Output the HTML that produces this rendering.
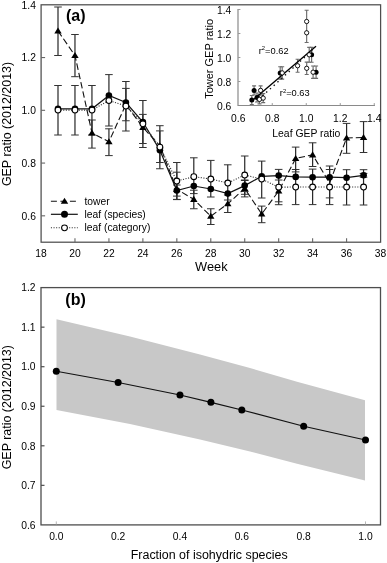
<!DOCTYPE html>
<html><head><meta charset="utf-8"><title>GEP ratio figure</title>
<style>
html,body{margin:0;padding:0;background:#fff;}
svg{display:block;}
text{font-family:'Liberation Sans', sans-serif;fill:#000;}
.tk{font-size:10.3px;}
.al{font-size:12.45px;}
.il{font-size:10.4px;}
.pl{font-size:16px;font-weight:bold;}
.rr{font-size:9.3px;}
</style></head><body>
<svg width="387" height="563" viewBox="0 0 387 563">
<rect width="387" height="563" fill="#fff"/>
<rect x="41.1" y="4.8" width="339.5" height="237.39999999999998" fill="none" stroke="#4e4e4e" stroke-width="1.25"/>
<text x="35.9" y="8.60" text-anchor="end" class="tk">1.4</text>
<line x1="41.1" y1="57.56" x2="45.1" y2="57.56" stroke="#666" stroke-width="1.1"/>
<text x="35.9" y="61.36" text-anchor="end" class="tk">1.2</text>
<line x1="41.1" y1="110.31" x2="45.1" y2="110.31" stroke="#666" stroke-width="1.1"/>
<text x="35.9" y="114.11" text-anchor="end" class="tk">1.0</text>
<line x1="41.1" y1="163.07" x2="45.1" y2="163.07" stroke="#666" stroke-width="1.1"/>
<text x="35.9" y="166.87" text-anchor="end" class="tk">0.8</text>
<line x1="41.1" y1="215.82" x2="45.1" y2="215.82" stroke="#666" stroke-width="1.1"/>
<text x="35.9" y="219.62" text-anchor="end" class="tk">0.6</text>
<text x="41.02" y="256.8" text-anchor="middle" class="tk">18</text>
<line x1="74.97" y1="242.2" x2="74.97" y2="238.2" stroke="#666" stroke-width="1.1"/>
<text x="74.97" y="256.8" text-anchor="middle" class="tk">20</text>
<line x1="108.93" y1="242.2" x2="108.93" y2="238.2" stroke="#666" stroke-width="1.1"/>
<text x="108.93" y="256.8" text-anchor="middle" class="tk">22</text>
<line x1="142.88" y1="242.2" x2="142.88" y2="238.2" stroke="#666" stroke-width="1.1"/>
<text x="142.88" y="256.8" text-anchor="middle" class="tk">24</text>
<line x1="176.83" y1="242.2" x2="176.83" y2="238.2" stroke="#666" stroke-width="1.1"/>
<text x="176.83" y="256.8" text-anchor="middle" class="tk">26</text>
<line x1="210.78" y1="242.2" x2="210.78" y2="238.2" stroke="#666" stroke-width="1.1"/>
<text x="210.78" y="256.8" text-anchor="middle" class="tk">28</text>
<line x1="244.73" y1="242.2" x2="244.73" y2="238.2" stroke="#666" stroke-width="1.1"/>
<text x="244.73" y="256.8" text-anchor="middle" class="tk">30</text>
<line x1="278.68" y1="242.2" x2="278.68" y2="238.2" stroke="#666" stroke-width="1.1"/>
<text x="278.68" y="256.8" text-anchor="middle" class="tk">32</text>
<line x1="312.62" y1="242.2" x2="312.62" y2="238.2" stroke="#666" stroke-width="1.1"/>
<text x="312.62" y="256.8" text-anchor="middle" class="tk">34</text>
<line x1="346.58" y1="242.2" x2="346.58" y2="238.2" stroke="#666" stroke-width="1.1"/>
<text x="346.58" y="256.8" text-anchor="middle" class="tk">36</text>
<text x="380.53" y="256.8" text-anchor="middle" class="tk">38</text>
<text x="211.3" y="271.3" text-anchor="middle" class="al" style="font-size:12.8px">Week</text>
<text transform="translate(10.8,124) rotate(-90)" text-anchor="middle" class="al">GEP ratio (2012/2013)</text>
<text x="66" y="20.8" class="pl">(a)</text>
<path d="M58.00 85.50V135.00" stroke="#262626" stroke-width="1.2" fill="none"/>
<path d="M54.20 85.50H61.80M54.20 135.00H61.80" stroke="#333" stroke-width="1" fill="none"/>
<path d="M58.00 7.00V55.50" stroke="#262626" stroke-width="1.2" fill="none"/>
<path d="M54.20 7.00H61.80M54.20 55.50H61.80" stroke="#333" stroke-width="1" fill="none"/>
<path d="M74.97 85.50V135.00" stroke="#262626" stroke-width="1.2" fill="none"/>
<path d="M71.17 85.50H78.77M71.17 135.00H78.77" stroke="#333" stroke-width="1" fill="none"/>
<path d="M74.97 34.50V76.70" stroke="#262626" stroke-width="1.2" fill="none"/>
<path d="M71.17 34.50H78.77M71.17 76.70H78.77" stroke="#333" stroke-width="1" fill="none"/>
<path d="M91.95 85.50V135.00" stroke="#262626" stroke-width="1.2" fill="none"/>
<path d="M88.15 85.50H95.75M88.15 135.00H95.75" stroke="#333" stroke-width="1" fill="none"/>
<path d="M91.95 120.00V148.10" stroke="#262626" stroke-width="1.2" fill="none"/>
<path d="M88.15 120.00H95.75M88.15 148.10H95.75" stroke="#333" stroke-width="1" fill="none"/>
<path d="M108.93 74.60V126.00" stroke="#262626" stroke-width="1.2" fill="none"/>
<path d="M105.13 74.60H112.73M105.13 126.00H112.73" stroke="#333" stroke-width="1" fill="none"/>
<path d="M108.93 128.80V155.60" stroke="#262626" stroke-width="1.2" fill="none"/>
<path d="M105.13 128.80H112.73M105.13 155.60H112.73" stroke="#333" stroke-width="1" fill="none"/>
<path d="M125.90 81.50V131.00" stroke="#262626" stroke-width="1.2" fill="none"/>
<path d="M122.10 81.50H129.70M122.10 131.00H129.70" stroke="#333" stroke-width="1" fill="none"/>
<path d="M125.90 88.40V120.75" stroke="#262626" stroke-width="1.2" fill="none"/>
<path d="M122.10 88.40H129.70M122.10 120.75H129.70" stroke="#333" stroke-width="1" fill="none"/>
<path d="M142.88 100.50V147.50" stroke="#262626" stroke-width="1.2" fill="none"/>
<path d="M139.07 100.50H146.68M139.07 147.50H146.68" stroke="#333" stroke-width="1" fill="none"/>
<path d="M142.88 114.40V143.50" stroke="#262626" stroke-width="1.2" fill="none"/>
<path d="M139.07 114.40H146.68M139.07 143.50H146.68" stroke="#333" stroke-width="1" fill="none"/>
<path d="M159.85 125.70V168.75" stroke="#262626" stroke-width="1.2" fill="none"/>
<path d="M156.05 125.70H163.65M156.05 168.75H163.65" stroke="#333" stroke-width="1" fill="none"/>
<path d="M159.85 130.90V162.50" stroke="#262626" stroke-width="1.2" fill="none"/>
<path d="M156.05 130.90H163.65M156.05 162.50H163.65" stroke="#333" stroke-width="1" fill="none"/>
<path d="M176.83 162.50V199.40" stroke="#262626" stroke-width="1.2" fill="none"/>
<path d="M173.03 162.50H180.63M173.03 199.40H180.63" stroke="#333" stroke-width="1" fill="none"/>
<path d="M176.83 172.20V199.60" stroke="#262626" stroke-width="1.2" fill="none"/>
<path d="M173.03 172.20H180.63M173.03 199.60H180.63" stroke="#333" stroke-width="1" fill="none"/>
<path d="M176.83 185.00V196.10" stroke="#262626" stroke-width="1.2" fill="none"/>
<path d="M173.03 185.00H180.63M173.03 196.10H180.63" stroke="#333" stroke-width="1" fill="none"/>
<path d="M193.80 157.80V193.60" stroke="#262626" stroke-width="1.2" fill="none"/>
<path d="M190.00 157.80H197.60M190.00 193.60H197.60" stroke="#333" stroke-width="1" fill="none"/>
<path d="M193.80 190.20V208.75" stroke="#262626" stroke-width="1.2" fill="none"/>
<path d="M190.00 190.20H197.60M190.00 208.75H197.60" stroke="#333" stroke-width="1" fill="none"/>
<path d="M210.78 160.40V197.00" stroke="#262626" stroke-width="1.2" fill="none"/>
<path d="M206.97 160.40H214.58M206.97 197.00H214.58" stroke="#333" stroke-width="1" fill="none"/>
<path d="M210.78 208.75V224.50" stroke="#262626" stroke-width="1.2" fill="none"/>
<path d="M206.97 208.75H214.58M206.97 224.50H214.58" stroke="#333" stroke-width="1" fill="none"/>
<path d="M227.75 164.80V200.00" stroke="#262626" stroke-width="1.2" fill="none"/>
<path d="M223.95 164.80H231.55M223.95 200.00H231.55" stroke="#333" stroke-width="1" fill="none"/>
<path d="M227.75 195.00V212.50" stroke="#262626" stroke-width="1.2" fill="none"/>
<path d="M223.95 195.00H231.55M223.95 212.50H231.55" stroke="#333" stroke-width="1" fill="none"/>
<path d="M244.73 156.00V194.30" stroke="#262626" stroke-width="1.2" fill="none"/>
<path d="M240.93 156.00H248.53M240.93 194.30H248.53" stroke="#333" stroke-width="1" fill="none"/>
<path d="M244.73 180.50V196.90" stroke="#262626" stroke-width="1.2" fill="none"/>
<path d="M240.93 180.50H248.53M240.93 196.90H248.53" stroke="#333" stroke-width="1" fill="none"/>
<path d="M244.73 180.00V191.50" stroke="#262626" stroke-width="1.2" fill="none"/>
<path d="M240.93 180.00H248.53M240.93 191.50H248.53" stroke="#333" stroke-width="1" fill="none"/>
<path d="M261.70 161.10V198.00" stroke="#262626" stroke-width="1.2" fill="none"/>
<path d="M257.90 161.10H265.50M257.90 198.00H265.50" stroke="#333" stroke-width="1" fill="none"/>
<path d="M261.70 206.10V222.70" stroke="#262626" stroke-width="1.2" fill="none"/>
<path d="M257.90 206.10H265.50M257.90 222.70H265.50" stroke="#333" stroke-width="1" fill="none"/>
<path d="M278.68 169.40V204.70" stroke="#262626" stroke-width="1.2" fill="none"/>
<path d="M274.88 169.40H282.48M274.88 204.70H282.48" stroke="#333" stroke-width="1" fill="none"/>
<path d="M278.68 180.00V201.80" stroke="#262626" stroke-width="1.2" fill="none"/>
<path d="M274.88 180.00H282.48M274.88 201.80H282.48" stroke="#333" stroke-width="1" fill="none"/>
<path d="M295.65 169.50V204.60" stroke="#262626" stroke-width="1.2" fill="none"/>
<path d="M291.85 169.50H299.45M291.85 204.60H299.45" stroke="#333" stroke-width="1" fill="none"/>
<path d="M295.65 147.10V171.90" stroke="#262626" stroke-width="1.2" fill="none"/>
<path d="M291.85 147.10H299.45M291.85 171.90H299.45" stroke="#333" stroke-width="1" fill="none"/>
<path d="M312.62 169.10V204.60" stroke="#262626" stroke-width="1.2" fill="none"/>
<path d="M308.82 169.10H316.43M308.82 204.60H316.43" stroke="#333" stroke-width="1" fill="none"/>
<path d="M312.62 142.80V166.50" stroke="#262626" stroke-width="1.2" fill="none"/>
<path d="M308.82 142.80H316.43M308.82 166.50H316.43" stroke="#333" stroke-width="1" fill="none"/>
<path d="M329.60 169.50V204.60" stroke="#262626" stroke-width="1.2" fill="none"/>
<path d="M325.80 169.50H333.40M325.80 204.60H333.40" stroke="#333" stroke-width="1" fill="none"/>
<path d="M329.60 166.00V197.90" stroke="#262626" stroke-width="1.2" fill="none"/>
<path d="M325.80 166.00H333.40M325.80 197.90H333.40" stroke="#333" stroke-width="1" fill="none"/>
<path d="M346.58 169.70V205.00" stroke="#262626" stroke-width="1.2" fill="none"/>
<path d="M342.78 169.70H350.38M342.78 205.00H350.38" stroke="#333" stroke-width="1" fill="none"/>
<path d="M346.58 123.40V153.30" stroke="#262626" stroke-width="1.2" fill="none"/>
<path d="M342.78 123.40H350.38M342.78 153.30H350.38" stroke="#333" stroke-width="1" fill="none"/>
<path d="M363.55 169.70V205.00" stroke="#262626" stroke-width="1.2" fill="none"/>
<path d="M359.75 169.70H367.35M359.75 205.00H367.35" stroke="#333" stroke-width="1" fill="none"/>
<path d="M363.55 121.60V152.50" stroke="#262626" stroke-width="1.2" fill="none"/>
<path d="M359.75 121.60H367.35M359.75 152.50H367.35" stroke="#333" stroke-width="1" fill="none"/>
<path d="M363.55 173.40V177.20" stroke="#262626" stroke-width="1.2" fill="none"/>
<path d="M359.75 173.40H367.35M359.75 177.20H367.35" stroke="#333" stroke-width="1" fill="none"/>
<polyline points="58.0,31.00 75.0,55.50 92.0,133.00 108.9,141.75 125.9,104.50 142.9,127.40 159.9,145.70 176.8,189.30 193.8,199.30 210.8,216.25 227.8,203.75 244.7,188.50 261.7,214.00 278.7,191.00 295.7,158.40 312.6,154.80 329.6,183.00 346.6,138.00 363.6,137.40" fill="none" stroke="#111" stroke-width="1.1" stroke-dasharray="6.5 3"/>
<polyline points="58.0,108.80 75.0,108.80 92.0,108.80 108.9,95.50 125.9,102.50 142.9,122.00 159.9,150.30 176.8,190.50 193.8,186.00 210.8,189.00 227.8,193.60 244.7,185.60 261.7,176.30 278.7,175.60 295.7,176.90 312.6,177.20 329.6,177.20 346.6,177.70 363.6,175.30" fill="none" stroke="#111" stroke-width="1.2"/>
<polyline points="58.0,110.10 75.0,110.10 92.0,110.10 108.9,100.50 125.9,106.00 142.9,123.80 159.9,147.10 176.8,181.00 193.8,176.70 210.8,179.00 227.8,183.00 244.7,175.00 261.7,179.10 278.7,187.20 295.7,187.00 312.6,187.00 329.6,187.00 346.6,187.00 363.6,187.00" fill="none" stroke="#333" stroke-width="1.1" stroke-dasharray="1.1 1.5"/>
<path d="M58.00 27.50L61.70 33.60H54.30Z" fill="#000"/>
<path d="M74.97 52.00L78.67 58.10H71.27Z" fill="#000"/>
<path d="M91.95 129.50L95.65 135.60H88.25Z" fill="#000"/>
<path d="M108.93 138.25L112.63 144.35H105.23Z" fill="#000"/>
<path d="M125.90 101.00L129.60 107.10H122.20Z" fill="#000"/>
<path d="M142.88 123.90L146.57 130.00H139.18Z" fill="#000"/>
<path d="M159.85 142.20L163.55 148.30H156.15Z" fill="#000"/>
<path d="M176.83 185.80L180.53 191.90H173.13Z" fill="#000"/>
<path d="M193.80 195.80L197.50 201.90H190.10Z" fill="#000"/>
<path d="M210.78 212.75L214.47 218.85H207.08Z" fill="#000"/>
<path d="M227.75 200.25L231.45 206.35H224.05Z" fill="#000"/>
<path d="M244.73 185.00L248.43 191.10H241.03Z" fill="#000"/>
<path d="M261.70 210.50L265.40 216.60H258.00Z" fill="#000"/>
<path d="M278.68 187.50L282.38 193.60H274.98Z" fill="#000"/>
<path d="M295.65 154.90L299.35 161.00H291.95Z" fill="#000"/>
<path d="M312.62 151.30L316.32 157.40H308.93Z" fill="#000"/>
<path d="M346.58 134.50L350.28 140.60H342.88Z" fill="#000"/>
<path d="M363.55 133.90L367.25 140.00H359.85Z" fill="#000"/>
<circle cx="58.0" cy="108.80" r="3.3" fill="#000"/>
<circle cx="75.0" cy="108.80" r="3.3" fill="#000"/>
<circle cx="92.0" cy="108.80" r="3.3" fill="#000"/>
<circle cx="108.9" cy="95.50" r="3.3" fill="#000"/>
<circle cx="125.9" cy="102.50" r="3.3" fill="#000"/>
<circle cx="142.9" cy="122.00" r="3.3" fill="#000"/>
<circle cx="159.9" cy="150.30" r="3.3" fill="#000"/>
<circle cx="176.8" cy="190.50" r="3.3" fill="#000"/>
<circle cx="193.8" cy="186.00" r="3.3" fill="#000"/>
<circle cx="210.8" cy="189.00" r="3.3" fill="#000"/>
<circle cx="227.8" cy="193.60" r="3.3" fill="#000"/>
<circle cx="244.7" cy="185.60" r="3.3" fill="#000"/>
<circle cx="261.7" cy="176.30" r="3.3" fill="#000"/>
<circle cx="278.7" cy="175.60" r="3.3" fill="#000"/>
<circle cx="295.7" cy="176.90" r="3.3" fill="#000"/>
<circle cx="312.6" cy="177.20" r="3.3" fill="#000"/>
<circle cx="329.6" cy="177.20" r="3.3" fill="#000"/>
<circle cx="346.6" cy="177.70" r="3.3" fill="#000"/>
<circle cx="363.6" cy="175.30" r="3.3" fill="#000"/>
<circle cx="58.0" cy="110.10" r="2.9" fill="#fff" stroke="#000" stroke-width="1.05"/>
<circle cx="75.0" cy="110.10" r="2.9" fill="#fff" stroke="#000" stroke-width="1.05"/>
<circle cx="92.0" cy="110.10" r="2.9" fill="#fff" stroke="#000" stroke-width="1.05"/>
<circle cx="108.9" cy="100.50" r="2.9" fill="#fff" stroke="#000" stroke-width="1.05"/>
<circle cx="125.9" cy="106.00" r="2.9" fill="#fff" stroke="#000" stroke-width="1.05"/>
<circle cx="142.9" cy="123.80" r="2.9" fill="#fff" stroke="#000" stroke-width="1.05"/>
<circle cx="159.9" cy="147.10" r="2.9" fill="#fff" stroke="#000" stroke-width="1.05"/>
<circle cx="176.8" cy="181.00" r="2.9" fill="#fff" stroke="#000" stroke-width="1.05"/>
<circle cx="193.8" cy="176.70" r="2.9" fill="#fff" stroke="#000" stroke-width="1.05"/>
<circle cx="210.8" cy="179.00" r="2.9" fill="#fff" stroke="#000" stroke-width="1.05"/>
<circle cx="227.8" cy="183.00" r="2.9" fill="#fff" stroke="#000" stroke-width="1.05"/>
<circle cx="244.7" cy="175.00" r="2.9" fill="#fff" stroke="#000" stroke-width="1.05"/>
<circle cx="261.7" cy="179.10" r="2.9" fill="#fff" stroke="#000" stroke-width="1.05"/>
<circle cx="278.7" cy="187.20" r="2.9" fill="#fff" stroke="#000" stroke-width="1.05"/>
<circle cx="295.7" cy="187.00" r="2.9" fill="#fff" stroke="#000" stroke-width="1.05"/>
<circle cx="312.6" cy="187.00" r="2.9" fill="#fff" stroke="#000" stroke-width="1.05"/>
<circle cx="329.6" cy="187.00" r="2.9" fill="#fff" stroke="#000" stroke-width="1.05"/>
<circle cx="346.6" cy="187.00" r="2.9" fill="#fff" stroke="#000" stroke-width="1.05"/>
<circle cx="363.6" cy="187.00" r="2.9" fill="#fff" stroke="#000" stroke-width="1.05"/>
<path d="M50.9 201.2H76" stroke="#111" stroke-width="1.1" stroke-dasharray="6 3.5" fill="none"/>
<path d="M64.50 197.70L68.20 203.80H60.80Z" fill="#000"/>
<path d="M50.9 214.3H77.8" stroke="#111" stroke-width="1.2" fill="none"/>
<circle cx="64.5" cy="214.3" r="3.5" fill="#000"/>
<path d="M50.9 227.8H77.8" stroke="#333" stroke-width="1.1" stroke-dasharray="1.1 1.5" fill="none"/>
<circle cx="64.5" cy="227.8" r="2.9" fill="#fff" stroke="#000" stroke-width="1.05"/>
<text x="84.5" y="204.8" class="tk">tower</text>
<text x="84.5" y="218" class="tk">leaf (species)</text>
<text x="84.5" y="231.4" class="tk">leaf (category)</text>
<path d="M238 9V105.5H375" stroke="#8a8a8a" stroke-width="1.2" fill="none"/>
<path d="M238 9.50h2.4" stroke="#999" stroke-width="1"/>
<text x="231.3" y="13.80" text-anchor="end" class="tk">1.4</text>
<path d="M238 33.50h2.4" stroke="#999" stroke-width="1"/>
<text x="231.3" y="37.80" text-anchor="end" class="tk">1.2</text>
<path d="M238 57.50h2.4" stroke="#999" stroke-width="1"/>
<text x="231.3" y="61.80" text-anchor="end" class="tk">1.0</text>
<path d="M238 81.50h2.4" stroke="#999" stroke-width="1"/>
<text x="231.3" y="85.80" text-anchor="end" class="tk">0.8</text>
<text x="231.3" y="109.80" text-anchor="end" class="tk">0.6</text>
<text x="238.25" y="122.4" text-anchor="middle" class="tk">0.6</text>
<path d="M272.25 105.5v-2.4" stroke="#999" stroke-width="1"/>
<text x="272.25" y="122.4" text-anchor="middle" class="tk">0.8</text>
<path d="M306.25 105.5v-2.4" stroke="#999" stroke-width="1"/>
<text x="306.25" y="122.4" text-anchor="middle" class="tk">1.0</text>
<path d="M340.25 105.5v-2.4" stroke="#999" stroke-width="1"/>
<text x="340.25" y="122.4" text-anchor="middle" class="tk">1.2</text>
<path d="M374.25 105.5v-2.4" stroke="#999" stroke-width="1"/>
<text x="374.25" y="122.4" text-anchor="middle" class="tk">1.4</text>
<text x="306.3" y="137.1" text-anchor="middle" class="il">Leaf GEP ratio</text>
<text transform="translate(212.5,58.9) rotate(-90)" text-anchor="middle" class="il" style="font-size:11px">Tower GEP ratio</text>
<text x="258.7" y="53.6" class="rr">r<tspan dy="-3.6" font-size="5.8">2</tspan><tspan dy="3.6">=0.62</tspan></text>
<text x="279.8" y="96.1" class="rr">r<tspan dy="-3.6" font-size="5.8">2</tspan><tspan dy="3.6">=0.63</tspan></text>
<path d="M251.80 95.50V104.50M249.80 95.50h4M249.80 104.50h4" stroke="#6c6c6c" stroke-width="1.15" fill="none"/>
<path d="M254.10 85.80V95.00M252.10 85.80h4M252.10 95.00h4" stroke="#6c6c6c" stroke-width="1.15" fill="none"/>
<path d="M257.00 93.00V102.00M255.00 93.00h4M255.00 102.00h4" stroke="#6c6c6c" stroke-width="1.15" fill="none"/>
<path d="M280.20 66.70V79.10M278.20 66.70h4M278.20 79.10h4" stroke="#6c6c6c" stroke-width="1.15" fill="none"/>
<path d="M311.60 47.40V62.20M309.60 47.40h4M309.60 62.20h4" stroke="#6c6c6c" stroke-width="1.15" fill="none"/>
<path d="M316.10 66.00V78.40M314.10 66.00h4M314.10 78.40h4" stroke="#6c6c6c" stroke-width="1.15" fill="none"/>
<path d="M260.60 85.80V95.00M258.60 85.80h4M258.60 95.00h4" stroke="#6c6c6c" stroke-width="1.15" fill="none"/>
<path d="M259.50 94.90V103.90M257.50 94.90h4M257.50 103.90h4" stroke="#6c6c6c" stroke-width="1.15" fill="none"/>
<path d="M263.20 93.60V102.60M261.20 93.60h4M261.20 102.60h4" stroke="#6c6c6c" stroke-width="1.15" fill="none"/>
<path d="M282.20 66.70V79.10M280.20 66.70h4M280.20 79.10h4" stroke="#6c6c6c" stroke-width="1.15" fill="none"/>
<path d="M297.60 59.25V72.25M295.60 59.25h4M295.60 72.25h4" stroke="#6c6c6c" stroke-width="1.15" fill="none"/>
<path d="M309.20 47.40V62.20M307.20 47.40h4M307.20 62.20h4" stroke="#6c6c6c" stroke-width="1.15" fill="none"/>
<path d="M306.70 62.10V74.50M304.70 62.10h4M304.70 74.50h4" stroke="#6c6c6c" stroke-width="1.15" fill="none"/>
<path d="M313.10 66.00V78.40M311.10 66.00h4M311.10 78.40h4" stroke="#6c6c6c" stroke-width="1.15" fill="none"/>
<path d="M306.65 10.20V42.50M304.65 10.20h4M304.65 42.50h4" stroke="#6c6c6c" stroke-width="1.15" fill="none"/>
<path d="M251 101.7L316 46.2" stroke="#000" stroke-width="1.3"/>
<path d="M257.2 100.8L313 49.6" stroke="#111" stroke-width="1.4" stroke-dasharray="1.4 3.7" stroke-dashoffset="3.1"/>
<circle cx="251.8" cy="100" r="2.5" fill="#000"/>
<circle cx="254.1" cy="90.4" r="2.5" fill="#000"/>
<circle cx="257" cy="97.5" r="2.5" fill="#000"/>
<circle cx="280.2" cy="72.9" r="2.5" fill="#000"/>
<circle cx="311.6" cy="54.8" r="2.5" fill="#000"/>
<circle cx="316.1" cy="72.2" r="2.5" fill="#000"/>
<circle cx="260.6" cy="90.4" r="2.15" fill="#fff" stroke="#000" stroke-width="0.9"/>
<circle cx="259.5" cy="99.4" r="2.15" fill="#fff" stroke="#000" stroke-width="0.9"/>
<circle cx="263.2" cy="98.1" r="2.15" fill="#fff" stroke="#000" stroke-width="0.9"/>
<circle cx="282.2" cy="72.9" r="2.15" fill="#fff" stroke="#000" stroke-width="0.9"/>
<circle cx="297.6" cy="65.75" r="2.15" fill="#fff" stroke="#000" stroke-width="0.9"/>
<circle cx="309.2" cy="54.8" r="2.15" fill="#fff" stroke="#000" stroke-width="0.9"/>
<circle cx="306.7" cy="68.3" r="2.15" fill="#fff" stroke="#000" stroke-width="0.9"/>
<circle cx="313.1" cy="72.2" r="2.15" fill="#fff" stroke="#000" stroke-width="0.9"/>
<circle cx="306.65" cy="21.5" r="2.15" fill="#fff" stroke="#000" stroke-width="0.9"/>
<circle cx="306.65" cy="32.8" r="2.15" fill="#fff" stroke="#000" stroke-width="0.9"/>
<polygon points="56.5,319.25 130,336.5 200,354.5 250,368 297,381.7 365,400.2 365,480.6 297,463.8 250,451.5 200,439.5 130,424 56.5,410" fill="#c8c8c8"/>
<rect x="41" y="287.6" width="339.5" height="237.29999999999995" fill="none" stroke="#4e4e4e" stroke-width="1.3"/>
<text x="35.5" y="291.30" text-anchor="end" class="tk">1.2</text>
<path d="M41 327.15h3.5" stroke="#4e4e4e" stroke-width="1.2"/>
<text x="35.5" y="330.85" text-anchor="end" class="tk">1.1</text>
<path d="M41 366.70h3.5" stroke="#4e4e4e" stroke-width="1.2"/>
<text x="35.5" y="370.40" text-anchor="end" class="tk">1.0</text>
<path d="M41 406.25h3.5" stroke="#4e4e4e" stroke-width="1.2"/>
<text x="35.5" y="409.95" text-anchor="end" class="tk">0.9</text>
<path d="M41 445.80h3.5" stroke="#4e4e4e" stroke-width="1.2"/>
<text x="35.5" y="449.50" text-anchor="end" class="tk">0.8</text>
<path d="M41 485.35h3.5" stroke="#4e4e4e" stroke-width="1.2"/>
<text x="35.5" y="489.05" text-anchor="end" class="tk">0.7</text>
<text x="35.5" y="528.60" text-anchor="end" class="tk">0.6</text>
<path d="M56.30 524.9v-3.5" stroke="#999" stroke-width="0.7"/>
<text x="56.30" y="540.3" text-anchor="middle" class="tk">0.0</text>
<text x="118.14" y="540.3" text-anchor="middle" class="tk">0.2</text>
<text x="179.98" y="540.3" text-anchor="middle" class="tk">0.4</text>
<text x="241.82" y="540.3" text-anchor="middle" class="tk">0.6</text>
<text x="303.66" y="540.3" text-anchor="middle" class="tk">0.8</text>
<path d="M365.50 524.9v-3.5" stroke="#999" stroke-width="0.7"/>
<text x="365.50" y="540.3" text-anchor="middle" class="tk">1.0</text>
<text x="209.2" y="558.5" text-anchor="middle" class="al">Fraction of isohydric species</text>
<text transform="translate(10.8,407.2) rotate(-90)" text-anchor="middle" class="al">GEP ratio (2012/2013)</text>
<text x="65.3" y="304.8" class="pl">(b)</text>
<polyline points="56.30,371.25 118.14,382.5 179.98,395 210.90,402.3 241.82,410 303.66,426.25 365.50,440" fill="none" stroke="#111" stroke-width="1.2"/>
<circle cx="56.30" cy="371.25" r="3.5" fill="#000"/>
<circle cx="118.14" cy="382.5" r="3.5" fill="#000"/>
<circle cx="179.98" cy="395" r="3.5" fill="#000"/>
<circle cx="210.90" cy="402.3" r="3.5" fill="#000"/>
<circle cx="241.82" cy="410" r="3.5" fill="#000"/>
<circle cx="303.66" cy="426.25" r="3.5" fill="#000"/>
<circle cx="365.50" cy="440" r="3.5" fill="#000"/>
</svg>
</body></html>
